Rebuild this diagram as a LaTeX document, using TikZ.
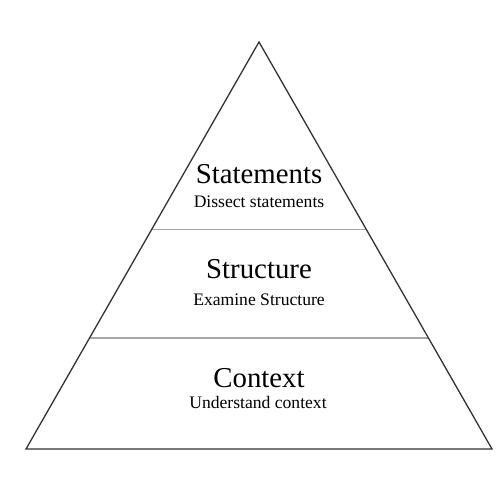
\documentclass[tikz,border=0pt]{standalone}
\usepackage{fontspec}
\setmainfont{Liberation Serif}
\usetikzlibrary{calc}
\tikzset{
  edge/.style={draw=black!80, line width=1.3pt, line join=miter},
  divider/.style={draw=black!35, line width=1.2pt},
  title/.style={anchor=base, inner sep=0pt, font=\fontsize{28.8}{32}\selectfont},
  subtitle/.style={anchor=base, inner sep=0pt, font=\fontsize{17.6}{20}\selectfont}
}
\begin{document}
\begin{tikzpicture}[x=1pt,y=-1pt]
\useasboundingbox (0,0) rectangle (500,500);
\coordinate (apex) at (259,42);
\coordinate (bl) at (26,449);
\coordinate (br) at (492,449);
\coordinate (d1l) at ($(apex)!0.4607!(bl)$);
\coordinate (d1r) at ($(apex)!0.4607!(br)$);
\coordinate (d2l) at ($(apex)!0.7273!(bl)$);
\coordinate (d2r) at ($(apex)!0.7273!(br)$);
\draw[divider] (d1l) -- (d1r);
\draw[divider] (d2l) -- (d2r);
\draw[edge] (apex) -- (bl) -- (br) -- cycle;
\node[title] (t1) at (259,183) {Statements};
\node[subtitle] (s1) at (259,207) {Dissect statements};
\node[title] (t2) at (259,278) {Structure};
\node[subtitle] (s2) at (259,305) {Examine Structure};
\node[title] (t3) at (259,387) {Context};
\node[subtitle] (s3) at (258,408) {Understand context};
\end{tikzpicture}
\end{document}
